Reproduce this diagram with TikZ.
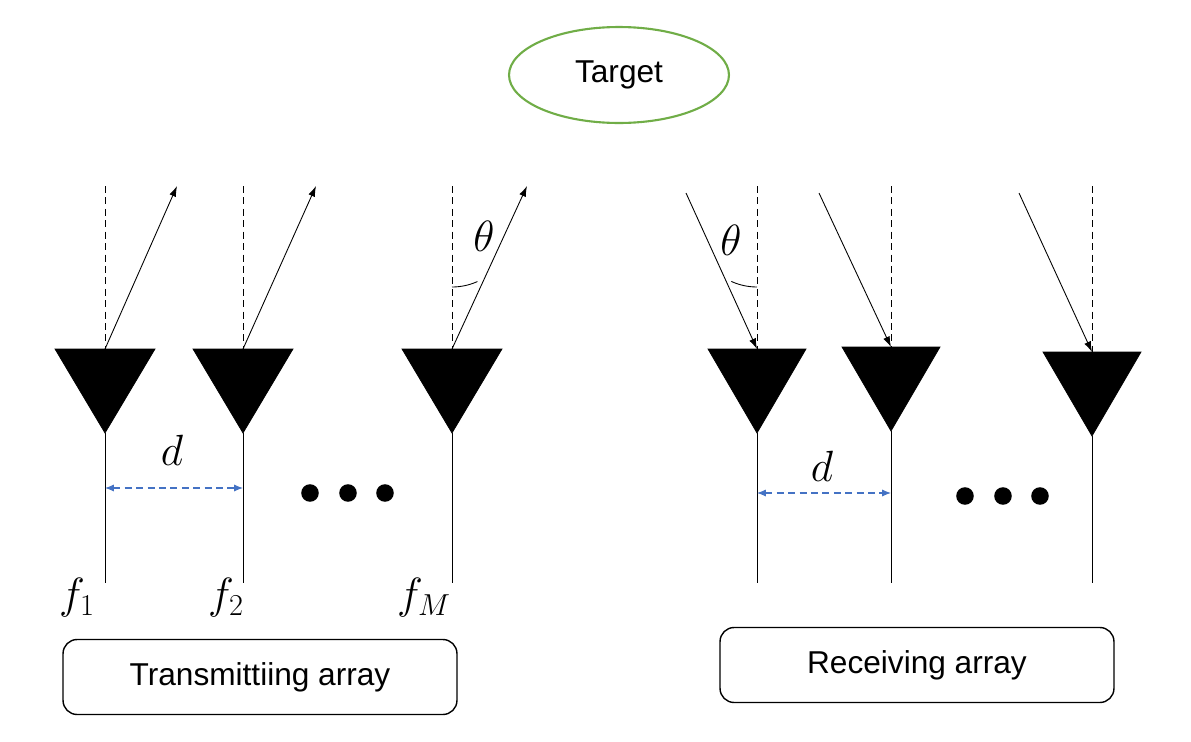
\documentclass[tikz,border=0pt]{standalone}
\usepackage{fontspec}
\newfontfamily\lblfont{Liberation Sans}
\usetikzlibrary{calc,positioning,arrows.meta,shapes.geometric}

\definecolor{targetgreen}{RGB}{112,173,71}
\definecolor{spaceblue}{RGB}{68,114,196}

\tikzset{
  antenna/.style={fill=black,draw=black},
  feed/.style={black,line width=0.5pt},
  normal/.style={dash pattern=on 4pt off 2.5pt,black,line width=0.5pt},
  ray/.style={-{Latex[length=6pt,width=4pt]},black,line width=0.5pt},
  spacing/.style={{Latex[length=5pt,width=4pt]}-{Latex[length=5pt,width=4pt]},dash pattern=on 4pt off 2.5pt,spaceblue,line width=0.6pt},
  arraybox/.style={draw,rounded corners=8pt,line width=0.8pt,minimum width=7.88cm,minimum height=1.5cm,font=\lblfont\fontsize{18}{20}\selectfont},
  bigdot/.style={circle,fill=black,inner sep=0pt,minimum size=10pt},
  mathlbl/.style={font=\fontsize{26}{28}\selectfont}
}

\begin{document}
\begin{tikzpicture}[x=0.02cm,y=-0.02cm]
  \useasboundingbox (0,0) rectangle (1191,741);

  % target
  \node[ellipse,draw=targetgreen,line width=1.2pt,minimum width=4.4cm,minimum height=1.92cm,
        font=\lblfont\fontsize{18}{20}\selectfont] (target) at (619,75) {Target};

  % transmitting antennas
  \foreach \name/\x/\tx in {t1/105/177,t2/243/316,tM/452/527}{
    \coordinate (\name top) at (\x,349);
    \coordinate (\name tip) at (\x,433);
    \coordinate (\name end) at (\x,583);
    \coordinate (\name ray) at (\tx,186);
    \fill[antenna] (\x-50,349) -- (\x+50,349) -- (\name tip) -- cycle;
    \draw[feed] (\name tip) -- (\name end);
    \draw[normal] (\x,186) -- (\name top);
    \draw[ray] (\name top) -- (\name ray);
  }

  % receiving antennas
  \foreach \name/\x/\y/\sx in {r1/757/349/686,r2/891/347/819,rN/1092/352/1019}{
    \coordinate (\name top) at (\x,\y);
    \coordinate (\name tip) at (\x,\y+84);
    \coordinate (\name end) at (\x,583);
    \coordinate (\name src) at (\sx,193);
    \fill[antenna] (\x-49,\y) -- (\x+49,\y) -- (\name tip) -- cycle;
    \draw[feed] (\name tip) -- (\name end);
    \draw[normal] (\x,186) -- (\name top);
    \draw[ray] (\name src) -- (\name top);
  }

  % angles
  \draw[line width=0.5pt] ($(tMtop)+(0,-62)$) arc[start angle=90,end angle=65.8,radius=62];
  \node[mathlbl] (thT) at (484,236) {$\theta$};
  \draw[line width=0.5pt] ($(r1top)+(0,-62)$) arc[start angle=90,end angle=114.5,radius=62];
  \node[mathlbl] (thR) at (731,240) {$\theta$};

  % spacing
  \draw[spacing] (105,488) -- (243,488);
  \node[mathlbl] (dT) at (172,450) {$d$};
  \draw[spacing] (757,493) -- (891,493);
  \node[mathlbl] (dR) at (822,466) {$d$};

  % dots
  \foreach \x in {310,348,385} \node[bigdot] at (\x,493) {};
  \foreach \x in {965,1003,1040} \node[bigdot] at (\x,496) {};

  % frequencies
  \node[mathlbl] (f1) at (77,598) {$f_1$};
  \node[mathlbl] (f2) at (226,598) {$f_2$};
  \node[mathlbl] (fM) at (424,598) {$f_M$};

  % labels
  \node[arraybox] (tx) at (260,677) {Transmittiing array};
  \node[arraybox] (rx) at (917,665) {Receiving array};
\end{tikzpicture}
\end{document}
